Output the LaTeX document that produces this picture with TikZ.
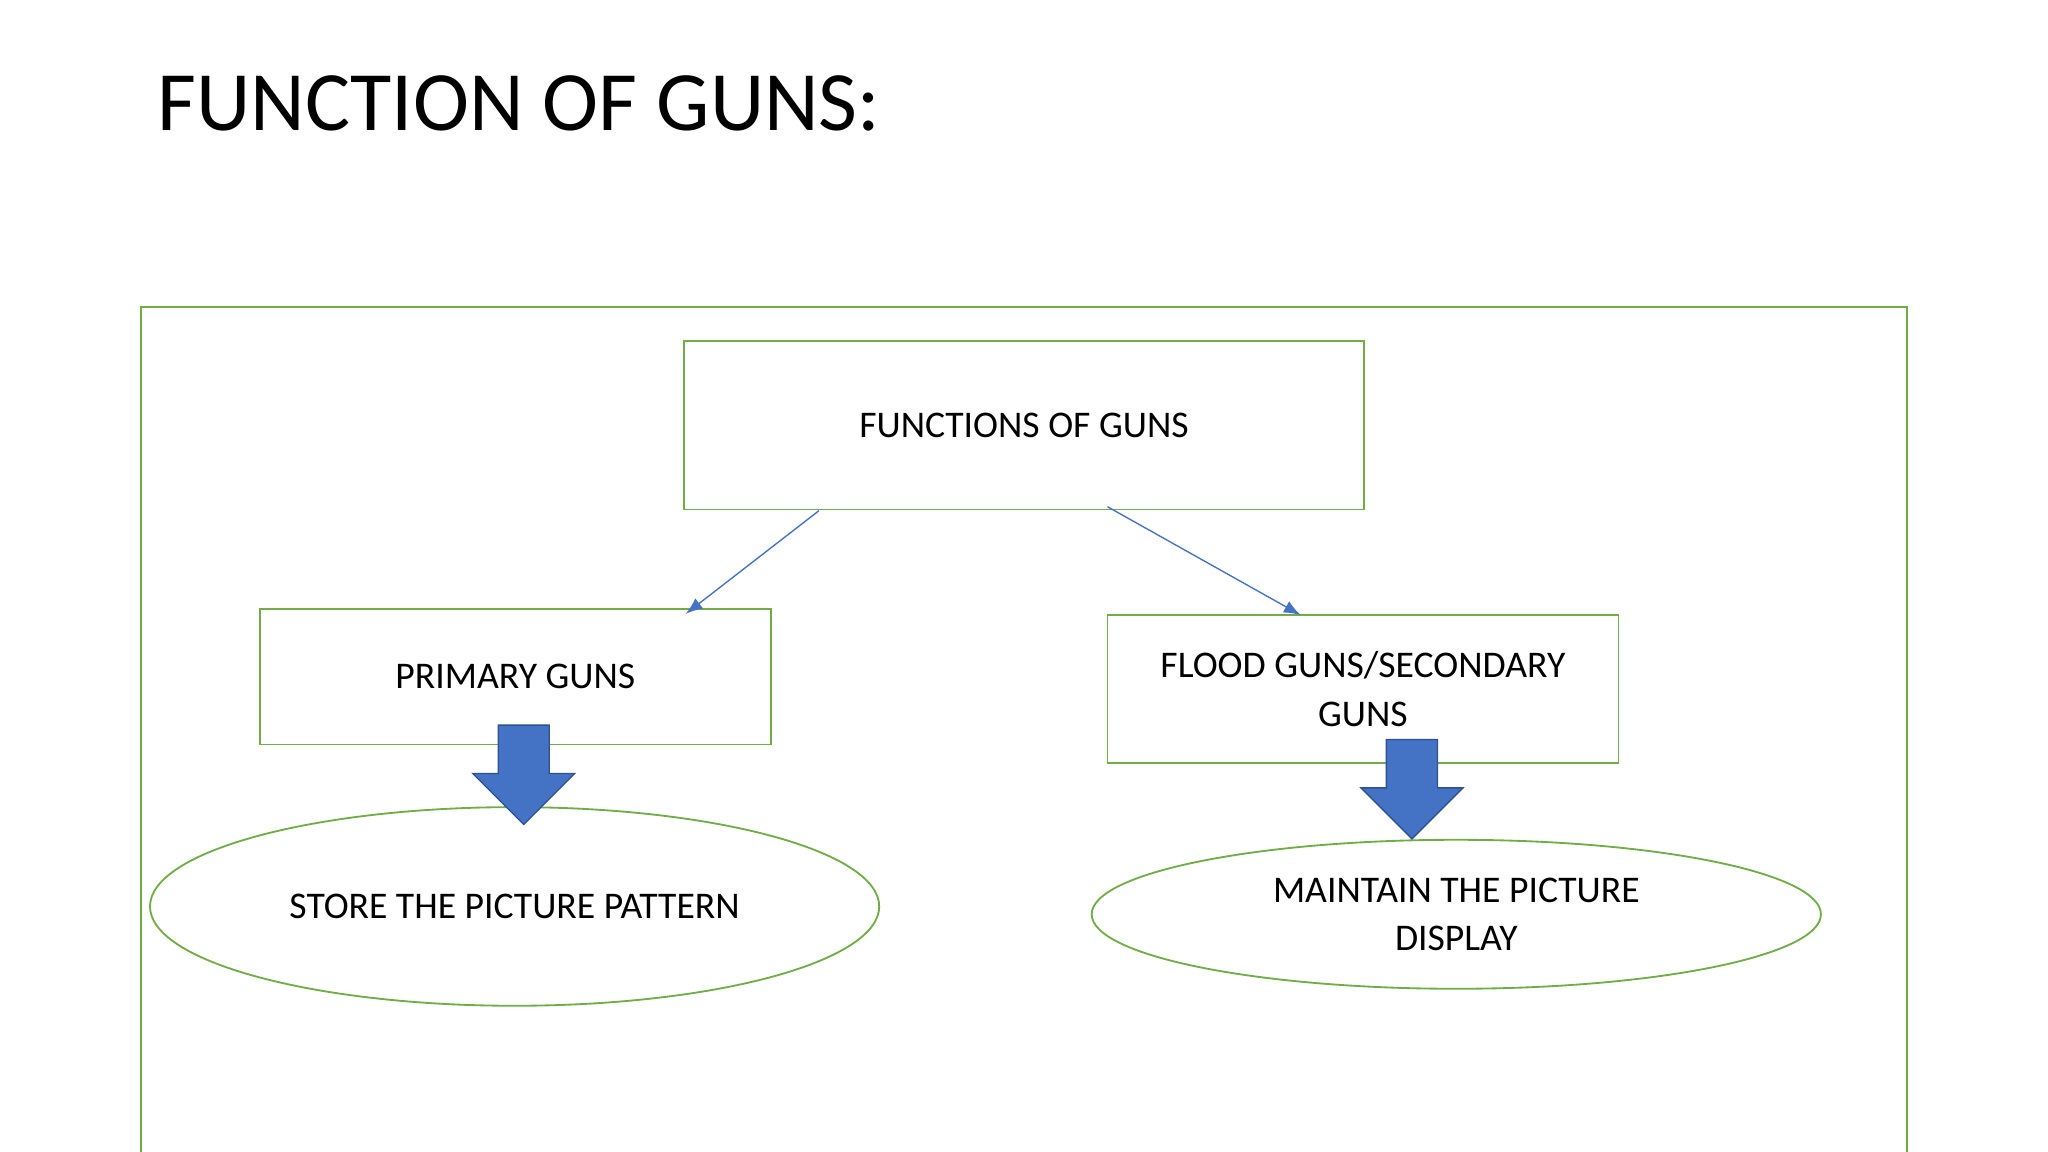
\documentclass[tikz,border=0pt]{standalone}
\usepackage{fontspec}
\setmainfont{Carlito}
\usetikzlibrary{shapes,arrows,positioning}
\definecolor{gunsgreen}{HTML}{70AD47}
\definecolor{gunsblue}{HTML}{4472C4}
\definecolor{gunsdark}{HTML}{2F528F}
\tikzstyle{block} = [rectangle, draw=gunsgreen, line width=0.4pt, align=center, font=\fontsize{8.2}{10.5}\selectfont]
\tikzstyle{goal} = [ellipse, draw=gunsgreen, line width=0.4pt, align=center, inner sep=0pt, font=\fontsize{8.2}{10.5}\selectfont]
\tikzstyle{bigarrow} = [single arrow, draw=gunsdark, line width=0.3pt, fill=gunsblue, rotate=-90, inner sep=0.19cm, minimum width=0.77cm, minimum height=0.76cm, single arrow head extend=0.195cm, anchor=tip]
\tikzstyle{link} = [->, >=latex, gunsblue, line width=0.3pt]

\begin{document}
\begin{tikzpicture}[x=0.01cm, y=-0.01cm]
    \useasboundingbox (0,0) rectangle (1568,882);
    \node [anchor=base west, font=\fontsize{18.4}{22}\selectfont, inner sep=0] (title) at (120,100) {FUNCTION OF GUNS:};
    \draw [gunsgreen, line width=0.4pt] (108,882) |- (1460,235) -- (1460,882);

    \node [block, minimum width=5.2cm, minimum height=1.29cm] (main) at (784,325.5) {FUNCTIONS OF GUNS};
    \node [block, minimum width=3.91cm, minimum height=1.04cm] (primary) at (394.5,518) {PRIMARY GUNS};
    \node [block, minimum width=3.91cm, minimum height=1.13cm] (flood) at (1043.5,527.5) {FLOOD GUNS/SECONDARY\\GUNS};

    \node [goal, minimum width=5.58cm, minimum height=1.52cm] (store) at (394,694) {STORE THE PICTURE PATTERN};
    \node [goal, minimum width=5.58cm, minimum height=1.14cm] (maintain) at (1115,700) {MAINTAIN THE PICTURE\\DISPLAY};

    \coordinate (mainleft) at (627,391);
    \coordinate (mainright) at (848,388);
    \coordinate (primarytop) at (525,470);
    \coordinate (floodtop) at (996,471);
    \draw[link] (mainleft) -- (primarytop);
    \draw[link] (mainright) -- (floodtop);

    \node [bigarrow] (storearrow) at (401,632) {};
    \node [bigarrow] (maintainarrow) at (1081,643) {};
\end{tikzpicture}
\end{document}
